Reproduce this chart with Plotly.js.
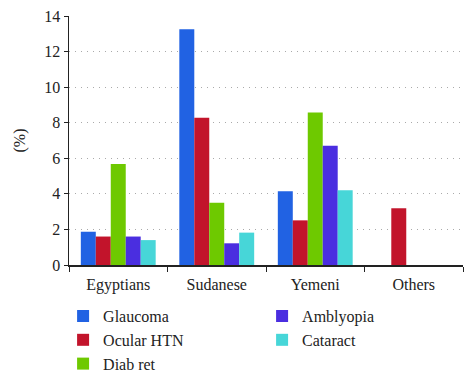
<!DOCTYPE html>
<html><head><meta charset="utf-8">
<script src="https://cdn.plot.ly/plotly-3.0.1.min.js"></script>
<style>html,body{margin:0;padding:0;background:#fff;}#chart{width:474px;height:376px;}</style>
</head><body><div id="chart"></div>
<script>
const categories = ["Egyptians", "Sudanese", "Yemeni", "Others"];
const glaucoma = [1.87, 13.25, 4.14, 0];
const ocularHTN = [1.6, 8.28, 2.51, 3.19];
const diabRet = [5.68, 3.5, 8.58, 0];
const amblyopia = [1.6, 1.22, 6.7, 0];
const cataract = [1.4, 1.82, 4.2, 0];
const seriesNames = ["Glaucoma", "Ocular HTN", "Diab ret", "Amblyopia", "Cataract"];
const seriesValues = [glaucoma, ocularHTN, diabRet, amblyopia, cataract];
const colors = ["#2162e3", "#c2142b", "#6ec900", "#4a2ee0", "#47d6d8"];
const ranks = [1, 3, 5, 2, 4];
const yTicks = [0, 2, 4, 6, 8, 10, 12, 14];

const fam = "Liberation Serif";
const font = {family: fam, size: 16, color: "#222"};
const traces = seriesNames.map((n, i) => ({
  type: "bar", name: n, x: categories, y: seriesValues[i],
  marker: {color: colors[i], line: {width: 0}}, legendrank: ranks[i]
}));
const layout = {
  width: 474, height: 376,
  margin: {l: 69, r: 11, t: 16, b: 111, autoexpand: false},
  paper_bgcolor: "#fff", plot_bgcolor: "#fff",
  font: font,
  barmode: "group", bargap: 0.24, bargroupgap: 0,
  showlegend: true,
  legend: {orientation: "h", x: -0.015, xanchor: "left", y: -0.137, yanchor: "top",
    entrywidth: 154, entrywidthmode: "pixels", font: font,
    traceorder: "normal", itemwidth: 30, tracegroupgap: 0},
  xaxis: {showline: true, linecolor: "#222", linewidth: 1.5, ticks: "outside", tickson: "boundaries",
    ticklen: 5, tickcolor: "#222", tickfont: font, showgrid: false, ticklabelstandoff: 4},
  yaxis: {range: [0, 14], tickvals: yTicks, showline: true, linecolor: "#222", linewidth: 1.5,
    ticks: "outside", ticklen: 4, tickcolor: "#222", showgrid: true, gridcolor: "#aaa", griddash: "1px,5px",
    gridwidth: 1.2, zeroline: false, tickfont: font,
    title: {text: "(%)", font: font, standoff: 14}}
};
Plotly.newPlot("chart", traces, layout, {staticPlot: true, displayModeBar: false});
</script></body></html>
